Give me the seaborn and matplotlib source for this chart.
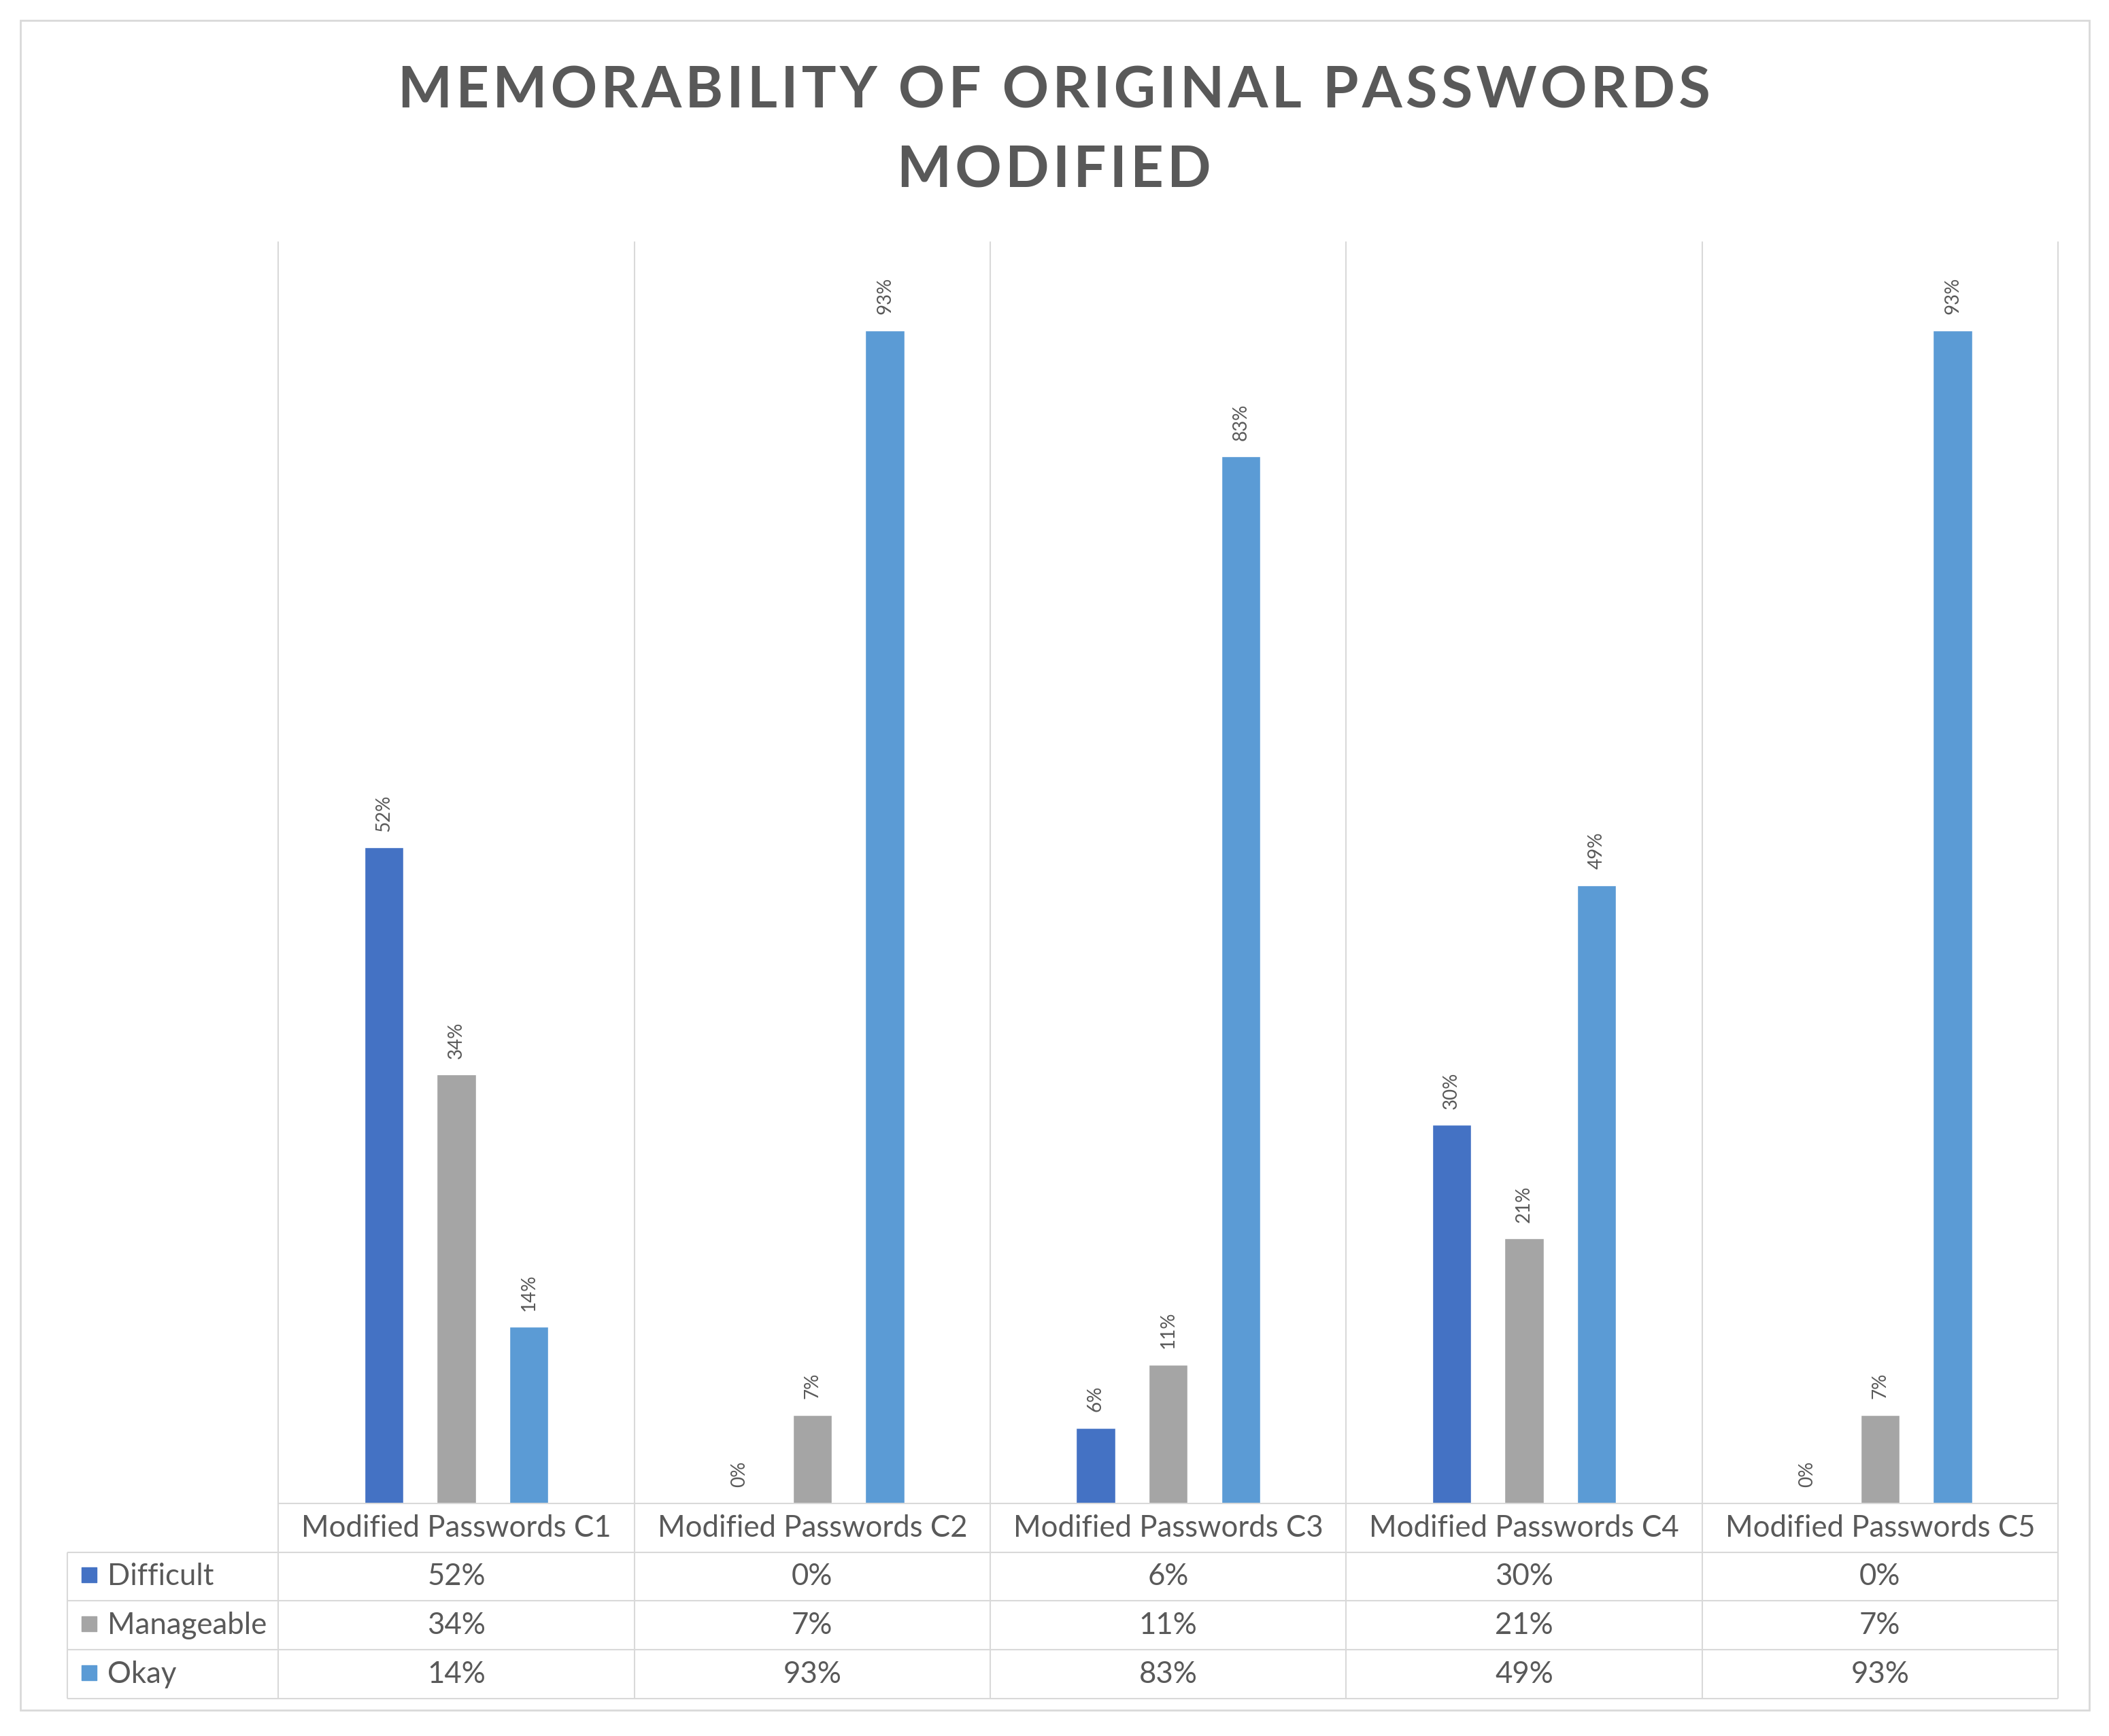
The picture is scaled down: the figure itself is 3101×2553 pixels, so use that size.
import matplotlib
matplotlib.use("Agg")
import numpy as np
import pandas as pd
import seaborn as sns
import matplotlib.pyplot as plt
from matplotlib.patches import Rectangle

# values (percent)
categories = ["Modified Passwords C1", "Modified Passwords C2", "Modified Passwords C3",
              "Modified Passwords C4", "Modified Passwords C5"]
levels = ["Difficult", "Manageable", "Okay"]
difficult = [52, 0, 6, 30, 0]
manageable = [34, 7, 11, 21, 7]
okay = [14, 93, 83, 49, 93]
colors = ["#4472C4", "#A5A5A5", "#5B9BD5"]
title_lines = ["MEMORABILITY OF ORIGINAL PASSWORDS", "MODIFIED"]

series = [difficult, manageable, okay]
df = pd.DataFrame({
    "category": categories * len(levels),
    "level": [lv for lv in levels for _ in categories],
    "value": difficult + manageable + okay,
})

sns.set_style("white")
plt.rcParams["font.family"] = ["Lato", "DejaVu Sans"]

text_col = "#595959"
line_col = "#D9D9D9"

fig = plt.figure(figsize=(31.01, 25.53), dpi=100)

# bar area
ax = fig.add_axes([0.1320, 0.1340, 0.8438, 0.7266])
sns.barplot(data=df, x="category", y="value", hue="level", hue_order=levels,
            palette=colors, saturation=1, width=0.612, gap=0.463,
            legend=False, ax=ax)
ax.set_xlim(-0.5, len(categories) - 0.5)
ax.set_ylim(0, 100)
for cont in ax.containers:
    ax.bar_label(cont, fmt="{:.0f}%", rotation=90, padding=17,
                 fontsize=20, color=text_col)
ax.set_xticks([])
ax.set_yticks([])
ax.set_xlabel("")
ax.set_ylabel("")
for side in ["left", "top", "right"]:
    ax.spines[side].set_visible(False)
ax.spines["bottom"].set_color(line_col)
ax.spines["bottom"].set_linewidth(1.5)
bounds = np.arange(-0.5, len(categories), 1.0)
for b in bounds:
    ax.axvline(b, color=line_col, lw=1.5, clip_on=False, zorder=0)

# data table under the bars
tax = fig.add_axes([0.0319, 0.0217, 0.9439, 0.1123])
x_left = -1.093
tax.set_xlim(x_left, len(categories) - 0.5)
tax.set_ylim(0, 4)
tax.axis("off")
tax.hlines([0, 1, 2, 3], x_left, len(categories) - 0.5, color=line_col, lw=1.5, clip_on=False)
tax.vlines(bounds, 0, 4, color=line_col, lw=1.5, clip_on=False)
tax.vlines(x_left, 0, 3, color=line_col, lw=1.5, clip_on=False)

fs = 31.5
for i, cat in enumerate(categories):
    tax.text(i, 3.55, cat, ha="center", va="center_baseline", fontsize=fs, color=text_col)

for r, (name, vals, col) in enumerate(zip(levels, series, colors)):
    y = 2.5 - r
    tax.scatter(-1.031, y + 0.03, marker="s", s=250, color=col, clip_on=False)
    tax.text(-0.98, y + 0.05, name, ha="left", va="center_baseline", fontsize=fs, color=text_col)
    for i, v in enumerate(vals):
        tax.text(i, y + 0.05, f"{v}%", ha="center", va="center_baseline", fontsize=fs, color=text_col)

# title, letter-spaced with hair spaces
spaced = "\n".join("\u200a".join(line) for line in title_lines)
fig.text(0.4997, 0.9245, spaced, ha="center", va="center", fontsize=61,
         fontweight="bold", color=text_col, linespacing=1.64)

# chart border
fig.patches.append(Rectangle((0.0096, 0.0147), 0.9809, 0.9737, transform=fig.transFigure,
                             fill=False, edgecolor=line_col, lw=2))

fig.savefig("out.png", dpi=100)
